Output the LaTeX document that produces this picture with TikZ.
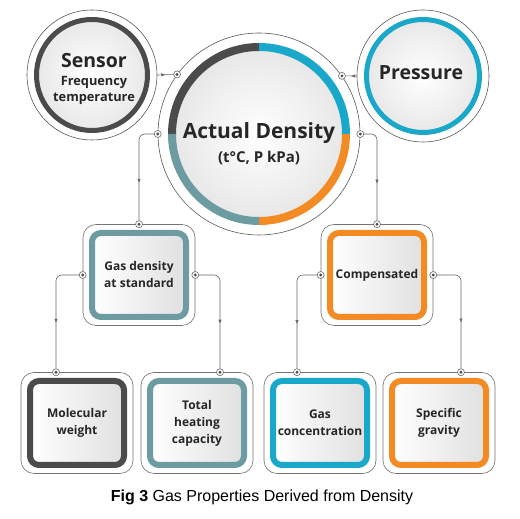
\documentclass[tikz,border=0pt]{standalone}
\usepackage{fontspec}
\newfontfamily\diagbase{Open Sans}
\newcommand{\diag}{\diagbase\bfseries}
\newfontfamily\capfont{Liberation Sans}
\usepackage{tikz}
\usetikzlibrary{positioning,arrows.meta,decorations.markings}
\definecolor{ringdark}{HTML}{4B4B4B}
\definecolor{ringcyan}{HTML}{19A8C9}
\definecolor{ringorange}{HTML}{F28B24}
\definecolor{ringteal}{HTML}{6C9CA1}

\begin{document}
\begin{tikzpicture}[x=1pt, y=1pt, >=Latex, every node/.style={font=\diag, text=black!85},
  midarrow/.style={postaction={decorate}, decoration={markings, mark=at position #1 with {\arrow{Latex[length=4pt,width=3.5pt]}}}}]
\tikzstyle{halo}=[circle, draw=black!65, line width=0.6pt, fill=white, inner sep=0pt]
\tikzstyle{disc}=[circle, inner sep=0pt, inner color=white, outer color=black!9]
\tikzstyle{frame}=[rectangle, rounded corners=13pt, draw=black!55, line width=0.6pt, fill=white, minimum width=112pt, minimum height=101pt]
\tikzstyle{card}=[rectangle, rounded corners=9pt, line width=6pt, minimum width=94pt, minimum height=84pt, left color=white, right color=black!12, align=center, font=\diag\fontsize{12}{17}\selectfont]
\tikzstyle{port}=[circle, draw=black!60, fill=white, line width=0.6pt, minimum size=7pt, inner sep=0pt, path picture={\fill[black!70] (path picture bounding box.center) circle (1.6pt);}]
\tikzstyle{link}=[draw=black!60, line width=0.6pt, rounded corners=6pt]
\useasboundingbox (0,0) rectangle (520,519);

\node[halo, minimum size=202pt] (dens) at (259,385) {};
\node[disc, minimum size=166pt] (densin) at (dens.center) {};
\draw[line width=8pt, ringdark] ([shift={(180:87)}]dens.center) arc[start angle=180, end angle=90, radius=87];
\draw[line width=8pt, ringcyan] ([shift={(90:87)}]dens.center) arc[start angle=90, end angle=0, radius=87];
\draw[line width=8pt, ringorange] ([shift={(0:87)}]dens.center) arc[start angle=0, end angle=-90, radius=87];
\draw[line width=8pt, ringteal] ([shift={(-90:87)}]dens.center) arc[start angle=-90, end angle=-180, radius=87];
\node[anchor=base, font=\diag\fontsize{21}{26}\selectfont] (denstitle) at (259,380) {Actual Density};
\node[anchor=base, font=\diag\fontsize{15}{20}\selectfont] (densunit) at (259,356) {(t°C, P kPa)};

\node[halo, minimum size=130pt] (sens) at (92,444) {};
\node[disc, minimum size=111pt, draw=ringdark, line width=5pt] (sensin) at (sens.center) {};
\node[anchor=base, font=\diag\fontsize{19.5}{24}\selectfont] (senstitle) at (94,451) {Sensor};
\node[anchor=base, font=\diag\fontsize{12.8}{16}\selectfont] (sensfreq) at (94,433) {Frequency};
\node[anchor=base, font=\diag\fontsize{12.8}{16}\selectfont] (senstemp) at (94,417) {temperature};

\node[halo, minimum size=132pt] (pres) at (423,443) {};
\node[disc, minimum size=113pt, draw=ringcyan, line width=5pt] (presin) at (pres.center) {};
\node[anchor=base, font=\diag\fontsize{19.5}{24}\selectfont] (prestitle) at (421,439) {Pressure};

\node[port] (p-sens) at (dens.144) {};
\node[port] (p-pres) at (dens.35) {};
\node[port] (p-dl) at (dens.west) {};
\node[port] (p-dr) at (dens.east) {};
\draw[link, midarrow=0.5] (sens.east) -- (p-sens);
\draw[link, midarrow=0.5] (pres.west) -- (p-pres);

\node[frame] (gd) at (139,244) {};
\node[card, draw=ringteal] (gdin) at (gd.center) {Gas density\\at standard};
\node[port] (p-gd) at (gd.north) {};
\node[port] (p-gdl) at (gd.west) {};
\node[port] (p-gdr) at (gd.east) {};

\node[frame] (cp) at (377,244) {};
\node[card, draw=ringorange] (cpin) at (cp.center) {Compensated};
\node[port] (p-cp) at (cp.north) {};
\node[port] (p-cpl) at (cp.west) {};
\node[port] (p-cpr) at (cp.east) {};

\draw[link, midarrow=0.62] (p-dl) -| (p-gd);
\draw[link, midarrow=0.62] (p-dr) -| (p-cp);

\node[frame] (mw) at (77,96) {};
\node[card, draw=ringdark] (mwin) at (mw.center) {Molecular\\weight};
\node[port] (p-mw) at ([xshift=-21pt]mw.north) {};
\node[frame] (th) at (197,96) {};
\node[card, draw=ringteal] (thin) at (th.center) {Total\\heating\\capacity};
\node[port] (p-th) at ([xshift=23pt]th.north) {};
\node[frame] (gc) at (320,96) {};
\node[card, draw=ringcyan] (gcin) at (gc.center) {Gas\\concentration};
\node[port] (p-gc) at ([xshift=-23pt]gc.north) {};
\node[frame] (sg) at (439,96) {};
\node[card, draw=ringorange] (sgin) at (sg.center) {Specific\\gravity};
\node[port] (p-sg) at ([xshift=22pt]sg.north) {};

\draw[link, midarrow=0.6] (p-gdl) -| (p-mw);
\draw[link, midarrow=0.6] (p-gdr) -| (p-th);
\draw[link, midarrow=0.6] (p-cpl) -| (p-gc);
\draw[link, midarrow=0.6] (p-cpr) -| (p-sg);

\node[font=\capfont\fontsize{16}{19}\selectfont, text=black] (caption) at (262,22) {\textbf{Fig 3} Gas Properties Derived from Density};
\end{tikzpicture}
\end{document}
